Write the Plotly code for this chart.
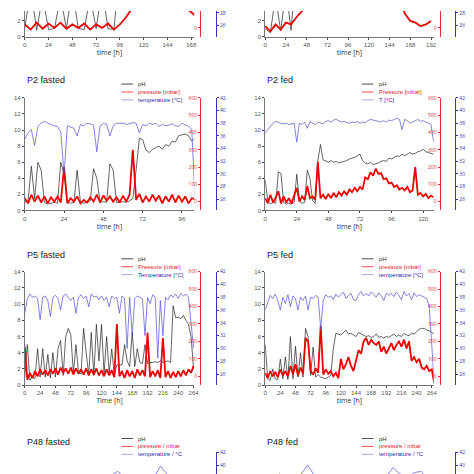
import plotly.graph_objects as go

W = 474

# ---------------- data ----------------
# row 1 (cut off at the top)
top_l_step = 6
top_l_ph = [1.0, 6, 0.8, 5, 0.9, 1.0, 5, 1.0, 6, 1.0, 0.9, 5, 1.0, 6, 1.0, 0.9, 9, 9, 9, 9, 9, 9, 9, 9, 9, 9, 9, 9, 9, 9, 9]
top_l_p = [20, -10, 30, -5, 25, 0, 30, -5, 20, 0, 25, -10, 20, 0, 25, -10, 20, 60, 110, 130, 150, 140, 160, 150, 170, 160, 140, 120, 90, 60, 40]
top_l_t = [38] * 31
top_r_step = 6
top_r_ph = [1.0, 0.5, 5, 0.7, 6, 0.8, 9, 9, 9, 9, 9, 9, 9, 9, 9, 9, 9, 9, 9, 9, 9, 9, 9, 9, 9, 9, 9, 9, 9, 9, 9, 9, 9]
top_r_p = [10, -20, 20, -10, 30, 20, 60, 100, 150, 200, 220, 230, 240, 250, 240, 230, 220, 240, 250, 230, 240, 220, 230, 240, 230, 200, 150, 80, 40, 30, 10, 20, 40]
top_r_t = [38] * 33

# P2 fasted, 2 h steps
p2f_step = 2
p2f_ph = [1.0, 1.2, 5.5, 1.5, 6.0, 5.0, 1.0, 0.8, 0.9, 1.0, 0.9, 6.0, 4.5, 1.0, 0.9, 1.0, 5.0, 1.0, 0.9, 1.0,
          1.2, 5.2, 4.0, 1.0, 1.1, 1.0, 5.8, 5.0, 1.0, 1.0, 1.1, 1.0, 1.2, 1.5, 5.0, 9.0, 8.8, 7.5, 7.2, 7.6,
          7.8, 8.0, 7.6, 8.2, 8.0, 8.6, 8.5, 9.3, 9.4, 9.5, 9.3, 8.6, 9.0]
p2f_p = [20, -10, 40, 0, 35, -5, 30, -10, 25, 0, 30, -5, 200, -10, 20, 0, 30, -10, 10, -5,
         25, 0, 40, -5, 35, 5, 30, 0, 25, -5, 35, 0, 40, 300, 10, 45, -5, 30, 0, 40,
         5, 35, -10, 30, 0, 40, -5, 35, 0, 30, -10, 20, 15]
p2f_t = [35.5, 36.5, 37, 34.5, 37.5, 38, 38.3, 38, 37.8, 37.6, 37.5, 36.6, 30, 37.6, 37.4, 37.2, 36, 37.8, 37.6, 38,
         37.9, 37.7, 33.5, 37.6, 38, 37.8, 36, 37.6, 38, 38, 38, 37.8, 38, 38.1, 38, 36.5, 37.8, 37.6, 38, 37.8,
         38, 37.5, 37.8, 37.6, 37.7, 37.9, 37.6, 37.5, 38, 37.8, 37.5, 37, 26]

# P2 fed, 2 h steps
p2d_step = 2
p2d_ph = [3.8, 1.2, 0.8, 1.0, 0.9, 4.8, 4.6, 1.0, 0.8, 0.9, 0.8, 1.0, 4.5, 1.2, 0.9, 1.0, 5.0, 4.0, 1.2, 0.9,
          6.2, 8.2, 6.3, 6.1, 6.0, 6.2, 6.0, 6.1, 5.9, 6.0, 6.1, 6.2, 6.4, 6.5, 6.6, 6.8, 7.0, 6.2, 5.9, 5.8,
          6.0, 5.7, 5.8, 5.9, 6.1, 6.2, 6.1, 6.5, 6.4, 6.6, 6.8, 6.7, 7.0, 6.8, 7.0, 7.2, 7.0, 7.1, 7.3, 7.4,
          7.6, 7.3, 7.2, 7.1, 7.0]
p2d_p = [20, -10, 40, -5, 25, 60, -10, 30, -5, 20, -10, 35, 80, 0, 30, 10, 90, 20, 30, 10,
         230, 20, 40, 15, 45, 20, 50, 25, 55, 35, 60, 40, 70, 55, 80, 60, 85, 70, 140, 130,
         170, 150, 190, 160, 165, 130, 135, 105, 110, 85, 95, 70, 80, 65, 85, 55, 65, 200, 40, 50,
         30, 45, 20, 35, 25]
p2d_t = [36.5, 37, 37.5, 38, 38.3, 38.1, 38, 37.9, 38, 37.8, 37.9, 38, 35, 38, 37.8, 38.2, 37.2, 38.3, 38, 37.8,
         38.2, 38, 37.9, 38.3, 38.4, 38.2, 38.5, 38.6, 38.4, 38.2, 38.3, 38.1, 38, 38.2, 38.1, 38.3, 38, 38.2, 38.1, 38.4,
         38.6, 38.5, 38.4, 38.3, 38.2, 38.4, 38.2, 38.5, 38.4, 38.6, 38.8, 38.6, 37, 38.6, 38.4, 38, 38.2, 38.4, 38.6, 38.3,
         38.4, 38.2, 38, 37.8, 35]

# P5 fasted, 4 h steps
p5f_step = 4
p5f_ph = [1.0, 5.0, 0.6, 1.0, 0.8, 4.5, 1.0, 4.5, 1.0, 3.8, 0.9, 4.0, 1.0, 4.5, 5.5, 1.2, 6.0, 7.0, 6.2, 1.5,
          5.0, 1.5, 1.4, 7.0, 4.0, 1.3, 6.5, 1.2, 7.5, 3.0, 7.5, 1.4, 6.0, 1.5, 4.5, 1.2, 2.5, 2.5, 2.5, 5.0,
          3.0, 2.3, 6.5, 2.3, 4.5, 2.8, 2.7, 5.0, 2.7, 2.8, 2.8, 2.9, 2.8, 3.0, 2.8, 2.9, 3.0, 2.8, 9.8, 8.3,
          8.4, 8.2, 8.6, 8.0, 7.5, 6.0, 2.0]
p5f_p = [170, -20, 20, -10, 30, 0, 40, 10, 35, 5, 40, 15, 45, 10, 50, 20, 45, 15, 50, 10,
         45, 15, 40, 10, 45, 5, 40, 10, 45, 5, 35, 0, 40, 5, 35, -5, 300, 0, 30, -10,
         35, 0, 30, -10, 40, 5, 35, 0, 250, -5, 30, 0, 35, -10, 220, -5, 30, -10, 25, -5,
         30, 0, 35, 5, 40, 20, 60]
p5f_t = [35.5, 37.8, 38.5, 38, 38.2, 37.8, 34.5, 38, 38.2, 37.5, 35, 38, 38.3, 37.8, 36, 38.2, 38.5, 38, 37.5, 38,
         35.5, 38, 38.4, 37.8, 38.2, 36.5, 38.5, 38, 38.2, 37.6, 38.2, 37.5, 38, 36.5, 38.2, 37.8, 38, 35.5, 38.2, 37.8,
         30, 38, 32, 37.8, 38.2, 38, 37.8, 32, 38, 37, 38.4, 38, 28.5, 37.5, 32, 38, 37.6, 38.4, 38, 38.5,
         37.8, 38.6, 38.2, 38.5, 38, 34, 30]

# P5 fed, 4 h steps
p5d_step = 4
p5d_ph = [5.0, 0.8, 0.6, 2.0, 0.8, 0.7, 3.2, 0.8, 3.5, 0.7, 6.0, 0.8, 4.8, 1.0, 4.0, 1.0, 7.0, 6.0, 1.2, 4.7,
          1.0, 1.3, 1.0, 0.9, 0.8, 1.0, 1.2, 4.5, 6.4, 6.3, 6.2, 6.5, 6.8, 6.3, 6.4, 6.2, 6.0, 6.5, 6.3, 6.2,
          6.0, 6.1, 5.9, 6.0, 6.3, 5.9, 6.0, 5.8, 6.0, 5.9, 6.1, 6.3, 6.0, 6.2, 6.0, 6.4, 6.2, 6.1, 6.4, 6.3,
          6.6, 6.9, 7.0, 7.0, 6.8, 6.7, 6.5, 6.3]
p5d_p = [20, -10, 30, 0, 25, -5, 40, 5, 30, 0, 60, 10, 70, 5, 50, 15, 220, 200, 30, 10,
         45, 20, 290, 10, 40, 15, 30, 0, 20, -10, 100, 40, 70, 110, 60, 30, 90, 150, 130, 200,
         220, 180, 210, 190, 180, 200, 140, 170, 130, 160, 190, 150, 180, 200, 170, 210, 160, 200, 90, 110,
         80, 100, 50, 40, 60, 30, 40, -40]
p5d_t = [36, 37, 38.3, 37.8, 38.5, 37.5, 36, 38, 37, 38.4, 36.5, 38.2, 37.8, 36, 38, 37.5, 38.2, 36, 38, 37.8,
         38.3, 38, 33, 37.5, 38.4, 38, 38.2, 37.6, 38.5, 38, 38.4, 38.8, 37.8, 38.3, 38.6, 37.6, 37.5, 38.4, 38.9, 38.2,
         38.6, 38.2, 38.8, 38.5, 38, 38.7, 38.2, 37.5, 38.6, 38.3, 38.6, 38.1, 38.8, 38.3, 37.6, 38.9, 38.2, 38.6, 37.6, 38.7,
         38.1, 38.4, 38.2, 38, 37.8, 36.5, 30, 24.5]

# P48 (only the top is visible)
p48f_step = 8
p48f_t = [37, 37.5, 38, 37.8, 38, 37.6, 37.8, 38, 37.5, 37.8, 38, 37.6, 38.3, 39, 38, 37.8, 38, 37.5, 37.8, 39.8, 38.5, 37.8, 37.5, 37.8]
p48d_step = 8
p48d_t = [37, 37.8, 38.6, 38, 37.8, 38.5, 40, 38.2, 37.8, 38, 37.6, 37.8, 38, 37.5, 37.8, 38, 37.6, 38, 39.6, 38.6, 38, 38.8, 39, 37.5]

# ---------------- layout helpers ----------------
def px(x):
    return x / W


def py(y):
    return 1 - y / W


RED_LO, RED_HI = -51, 600
BLUE_LO, BLUE_HI = 24.25, 42


def red_of(ph):
    return RED_LO + ph * (RED_HI - RED_LO) / 14


def blue_of(ph):
    return BLUE_LO + ph * (BLUE_HI - BLUE_LO) / 14


fig = go.Figure()
layout = {}
shapes = []
annos = []

tick_font = dict(size=6, color="#555", family="Arial")


def panel(k, left, ydom, ph_rng, xmax, step, ph, p, t, title=None, legend=None, xlab="time [h]",
          show_x=True, red_ticks=None, blue_ticks=None):
    n = k + 1
    xa, ya, yr, yb = "xaxis%d" % n, "yaxis%d" % (3 * k + 1), "yaxis%d" % (3 * k + 2), "yaxis%d" % (3 * k + 3)
    xr, y1, y2, y3 = "x%d" % n, "y%d" % (3 * k + 1), "y%d" % (3 * k + 2), "y%d" % (3 * k + 3)
    if left:
        x0, x1, rx, bx = 15, 187, 193, 209
    else:
        x0, x1, rx, bx = 259, 430, 436, 452
    dom = [px(x0), px(x1)]
    layout[xa] = dict(domain=dom, range=[0, xmax], anchor=y1, tickvals=list(range(0, int(xmax) + 1, 24)),
                      showline=show_x, linecolor="#777", ticks="outside" if show_x else "", ticklen=2,
                      showticklabels=show_x, tickfont=tick_font, showgrid=False, zeroline=False,
                      title=dict(text=xlab, font=dict(size=7, color="#333"), standoff=2) if show_x else None)
    layout[ya] = dict(domain=ydom, range=ph_rng, anchor=xr, tickvals=list(range(0, 15, 2)), showline=True,
                      linecolor="#777", ticks="outside", ticklen=2, tickfont=tick_font, showgrid=False,
                      zeroline=False)
    layout[yr] = dict(domain=ydom, range=[red_of(ph_rng[0]), red_of(ph_rng[1])], overlaying=y1,
                      anchor="free", position=px(rx), side="left", showline=True, linecolor="#e03030",
                      ticks="outside", ticklen=2, tickcolor="#e03030", tickvals=red_ticks or list(range(0, 601, 100)),
                      tickfont=dict(size=5, color="#e03030"), showgrid=False, zeroline=False)
    layout[yb] = dict(domain=ydom, range=[blue_of(ph_rng[0]), blue_of(ph_rng[1])], overlaying=y1,
                      anchor="free", position=px(bx), side="right", showline=True, linecolor="#3535b0",
                      ticks="outside", ticklen=2, tickcolor="#3535b0", tickvals=blue_ticks or list(range(24, 43, 2)),
                      tickfont=dict(size=5, color="#3535b0"), showgrid=False, zeroline=False)
    if p is not None:
        fig.add_trace(go.Scatter(x=[i * step for i in range(len(p))], y=p, xaxis=xr, yaxis=y2, mode="lines",
                                 line=dict(color="#ee0000", width=1.8), showlegend=False))
    if ph is not None:
        fig.add_trace(go.Scatter(x=[i * step for i in range(len(ph))], y=ph, xaxis=xr, yaxis=y1, mode="lines",
                                 line=dict(color="#222", width=0.7), showlegend=False))
    if t is not None:
        fig.add_trace(go.Scatter(x=[i * step for i in range(len(t))], y=t, xaxis=xr, yaxis=y3, mode="lines",
                                 line=dict(color="#5050d0", width=0.7), showlegend=False))
    if title:
        annos.append(dict(text=title[0], x=px(x0), y=py(title[1]), xref="paper", yref="paper", xanchor="left",
                          yanchor="middle", showarrow=False, font=dict(size=9, color="#222", family="Arial")))
    if legend:
        ly, labels = legend
        lx = 113 if left else 357
        cols = ["#222", "#ee2020", "#9090e0"]
        tcols = ["#333", "#e02020", "#2a2aa8"]
        for i, lab in enumerate(labels):
            yy = ly + i * 8
            shapes.append(dict(type="line", xref="paper", yref="paper", x0=px(lx), x1=px(lx + 12),
                               y0=py(yy), y1=py(yy), line=dict(color=cols[i], width=0.8)))
            annos.append(dict(text=lab, x=px(lx + 15), y=py(yy), xref="paper", yref="paper", xanchor="left",
                              yanchor="middle", showarrow=False, font=dict(size=6, color=tcols[i], family="Arial")))


r1 = [py(26), 1]
r2 = [py(202), py(88)]
r3 = [py(379), py(264)]
r4 = [0, py(447)]
ph_top = 26 / 8.14
ph_bot = 14 - 27 / 8.14

panel(0, True, r1, [0, ph_top], 171, top_l_step, top_l_ph, top_l_p, top_l_t)
panel(1, False, r1, [0, ph_top], 195, top_r_step, top_r_ph, top_r_p, top_r_t)
panel(2, True, r2, [0, 14], 103.5, p2f_step, p2f_ph, p2f_p, p2f_t, title=("P2 fasted", 70),
      legend=(74, ["pH", "pressure [mbar]", "temperature [°C]"]))
panel(3, False, r2, [0, 14], 128, p2d_step, p2d_ph, p2d_p, p2d_t, title=("P2 fed", 70),
      legend=(74, ["pH", "Pressure [mbar]", "T [°C]"]))
panel(4, True, r3, [0, 14], 265, p5f_step, p5f_ph, p5f_p, p5f_t, title=("P5 fasted", 247),
      legend=(251, ["pH", "Pressure [mbar]", "Temperature [°C]"]), xlab="Time [h]")
panel(5, False, r3, [0, 14], 267, p5d_step, p5d_ph, p5d_p, p5d_t, title=("P5 fed", 247),
      legend=(251, ["pH", "pressure [mbar]", "temperature [°C]"]))
panel(6, True, r4, [ph_bot, 14], 190, p48f_step, None, None, p48f_t, title=("P48 fasted", 437),
      legend=(433, ["pH", "pressure / mbar", "temperature / °C"]), show_x=False, red_ticks=[500, 600],
      blue_ticks=[40, 42])
panel(7, False, r4, [ph_bot, 14], 190, p48d_step, None, None, p48d_t, title=("P48 fed", 437),
      legend=(433, ["pH", "pressure / mbar", "temperature / °C"]), show_x=False, red_ticks=[500, 600],
      blue_ticks=[40, 42])

fig.update_layout(width=W, height=W, margin=dict(l=0, r=0, t=0, b=0), plot_bgcolor="white",
                  paper_bgcolor="white", showlegend=False, shapes=shapes, annotations=annos, **layout)
fig.write_html("out.html")
